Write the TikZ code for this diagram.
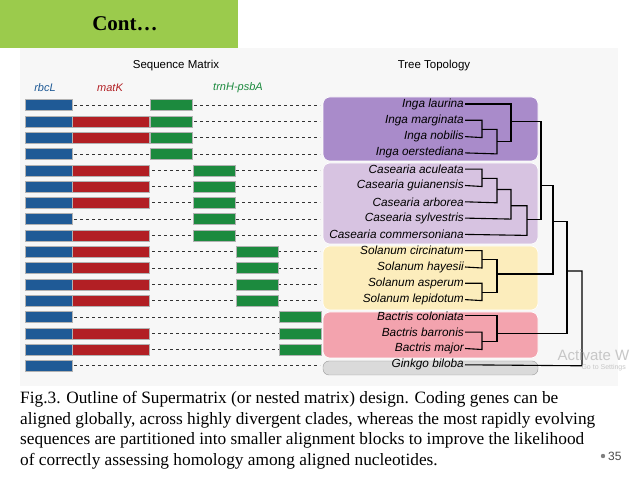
\documentclass[tikz,border=0pt]{standalone}
\usepackage{fontspec}
\setmainfont{Liberation Serif}
\newfontfamily\arial{Liberation Sans}
\definecolor{hdr}{HTML}{9BCB4C}
\definecolor{bblue}{HTML}{1F5A96}
\definecolor{bred}{HTML}{B21F24}
\definecolor{bgreen}{HTML}{1C8A3E}
\definecolor{cinga}{HTML}{A98BCA}
\definecolor{ccas}{HTML}{D7C3E1}
\definecolor{csol}{HTML}{FCEDBC}
\definecolor{cbac}{HTML}{F3A3AE}
\definecolor{cgin}{HTML}{DADADA}
\begin{document}
\begin{tikzpicture}[x=1pt,y=-1pt,
  bar/.style={minimum height=11pt,inner sep=0pt,draw=black!30,line width=0.3pt},
  gapline/.style={dash pattern=on 3pt off 3pt,line width=0.6pt,black!80},
  clade/.style={rounded corners=7pt,draw=white,line width=0.6pt},
  tax/.style={anchor=east,font=\arial\itshape\fontsize{11.8}{12}\selectfont,inner sep=1pt},
  br/.style={line width=1.1pt,black}]
\useasboundingbox (0,0) rectangle (638,478);
\fill[white] (0,0) rectangle (638,478);
\fill[black!3] (20,48) rectangle (618,386);
\node[fill=hdr,minimum width=238pt,minimum height=48pt,anchor=north west,inner sep=0pt] (hdrbox) at (0,0) {};
\node[font=\bfseries\fontsize{21}{24}\selectfont] (cont) at (125,24) {Cont…};
\node[font=\arial\fontsize{11.5}{13}\selectfont] (sm) at (176,66) {Sequence Matrix};
\node[font=\arial\fontsize{11.5}{13}\selectfont] (tt) at (434,66) {Tree Topology};
\node[font=\arial\itshape\fontsize{11}{13}\selectfont,text=bblue] (h1) at (45,88) {rbcL};
\node[font=\arial\itshape\fontsize{11}{13}\selectfont,text=bred] (h2) at (110,88) {matK};
\node[font=\arial\itshape\fontsize{11}{13}\selectfont,text=bgreen] (h3) at (238,88) {trnH-psbA};
% clades
\fill[clade,fill=cinga] (323,97) rectangle (538,161);
\fill[clade,fill=ccas] (323,163) rectangle (538,244);
\fill[clade,fill=csol] (323,246) rectangle (538,310);
\fill[clade,fill=cbac] (323,312) rectangle (538,358);
\filldraw[rounded corners=6pt,fill=cgin,draw=black!40] (323,361) rectangle (538,375);
% rows: index / red? / green col
\foreach \i/\r/\g [evaluate=\i as \y using 105+(\i-1)*16.3] in
 {1/0/1,2/1/1,3/1/1,4/0/1,5/1/2,6/1/2,7/1/2,8/0/2,9/1/2,10/1/3,11/1/3,12/1/3,13/1/3,14/0/4,15/1/4,16/1/4,17/0/0}{
  \draw[gapline] (74,\y) -- (320,\y);
  \node[bar,fill=bblue,minimum width=47pt,anchor=west] (b\i) at (25,\y) {};
  \ifnum\r=1 \node[bar,fill=bred,minimum width=77pt,anchor=west] (r\i) at (72,\y) {};\fi
  \ifnum\g>0 \node[bar,fill=bgreen,minimum width=42pt,anchor=west] (g\i) at ({150+(\g-1)*43},\y) {};\fi
}
% taxa
\foreach \i/\t in {1/Inga laurina,2/Inga marginata,3/Inga nobilis,4/Inga oerstediana,5/Casearia aculeata,6/Casearia guianensis,7/Casearia arborea,8/Casearia sylvestris,9/Casearia commersoniana,10/Solanum circinatum,11/Solanum hayesii,12/Solanum asperum,13/Solanum lepidotum,14/Bactris coloniata,15/Bactris barronis,16/Bactris major,17/Ginkgo biloba}{
  \node[tax] (t\i) at (465,{104+(\i-1)*16.3}) {\t};
}
\def\Y#1{(105+(#1-1)*16.3)}
% Inga
\draw[br] (t2.east) -| (482,{\Y{3}}) -- (t3.east);
\draw[br] (482,{(\Y{2}+\Y{3})/2}) -| (497,{\Y{4}}) -- (t4.east);
\draw[br] (t1.east) -| (511,{(\Y{2}+\Y{3})/4+\Y{4}/2});
\draw[br] (497,{(\Y{2}+\Y{3})/4+\Y{4}/2}) -- (511,{(\Y{2}+\Y{3})/4+\Y{4}/2});
% Casearia
\draw[br] (t5.east) -| (482,{\Y{6}}) -- (t6.east);
\draw[br] (482,{(\Y{5}+\Y{6})/2}) -| (497,{\Y{7}}) -- (t7.east);
\draw[br] (497,{\Y{6}+3}) -| (511,{\Y{8}}) -- (t8.east);
\draw[br] (511,{\Y{7}+3}) -| (527,{\Y{9}}) -- (t9.east);
% Inga + Casearia
\draw[br] (511,{\Y{2}}) -| (541,{\Y{8}}) -- (527,{\Y{8}});
% Solanum
\draw[br] (t10.east) -| (482,{\Y{11}}) -- (t11.east);
\draw[br] (t12.east) -| (482,{\Y{13}}) -- (t13.east);
\draw[br] (482,{(\Y{10}+\Y{11})/2}) -| (497,{(\Y{12}+\Y{13})/2}) -- (482,{(\Y{12}+\Y{13})/2});
\draw[br] (541,{\Y{6}-1}) -| (553,{\Y{11}+6}) -- (497,{\Y{11}+6});
% Bactris
\draw[br] (t15.east) -| (482,{\Y{16}}) -- (t16.east);
\draw[br] (t14.east) -| (497,{(\Y{15}+\Y{16})/2}) -- (482,{(\Y{15}+\Y{16})/2});
\draw[br] (553,{\Y{8}+2}) -| (567,{\Y{15}}) -- (497,{\Y{15}});
% Ginkgo
\draw[br] (567,{\Y{11}+3}) -| (582,{\Y{17}}) -- (t17.east);
\node[font=\fontsize{15}{17}\selectfont\arial,text=black!22,anchor=west] (w1) at (554,355) {Activate W};
\node[font=\fontsize{7}{8}\selectfont\arial,text=black!22,anchor=west] (w2) at (578,368) {Go to Settings};
% caption
\foreach \j/\l in {0/{Fig.3. Outline of Supermatrix (or nested matrix) design. Coding genes can be},
 1/{aligned globally, across highly divergent clades, whereas the most rapidly evolving},
 2/{sequences are partitioned into smaller alignment blocks to improve the likelihood},
 3/{of correctly assessing homology among aligned nucleotides.}}{
  \node[anchor=base west,inner sep=0pt,font=\fontsize{17.3}{20}\selectfont] (c\j) at (20,{404+\j*20.5}) {\l};
}
\fill[black!50] (603,456) circle (2.2pt);
\node[anchor=base west,inner sep=0pt,font=\arial\fontsize{12}{13}\selectfont,text=black!70] (pn) at (608,461) {35};
\end{tikzpicture}
\end{document}
